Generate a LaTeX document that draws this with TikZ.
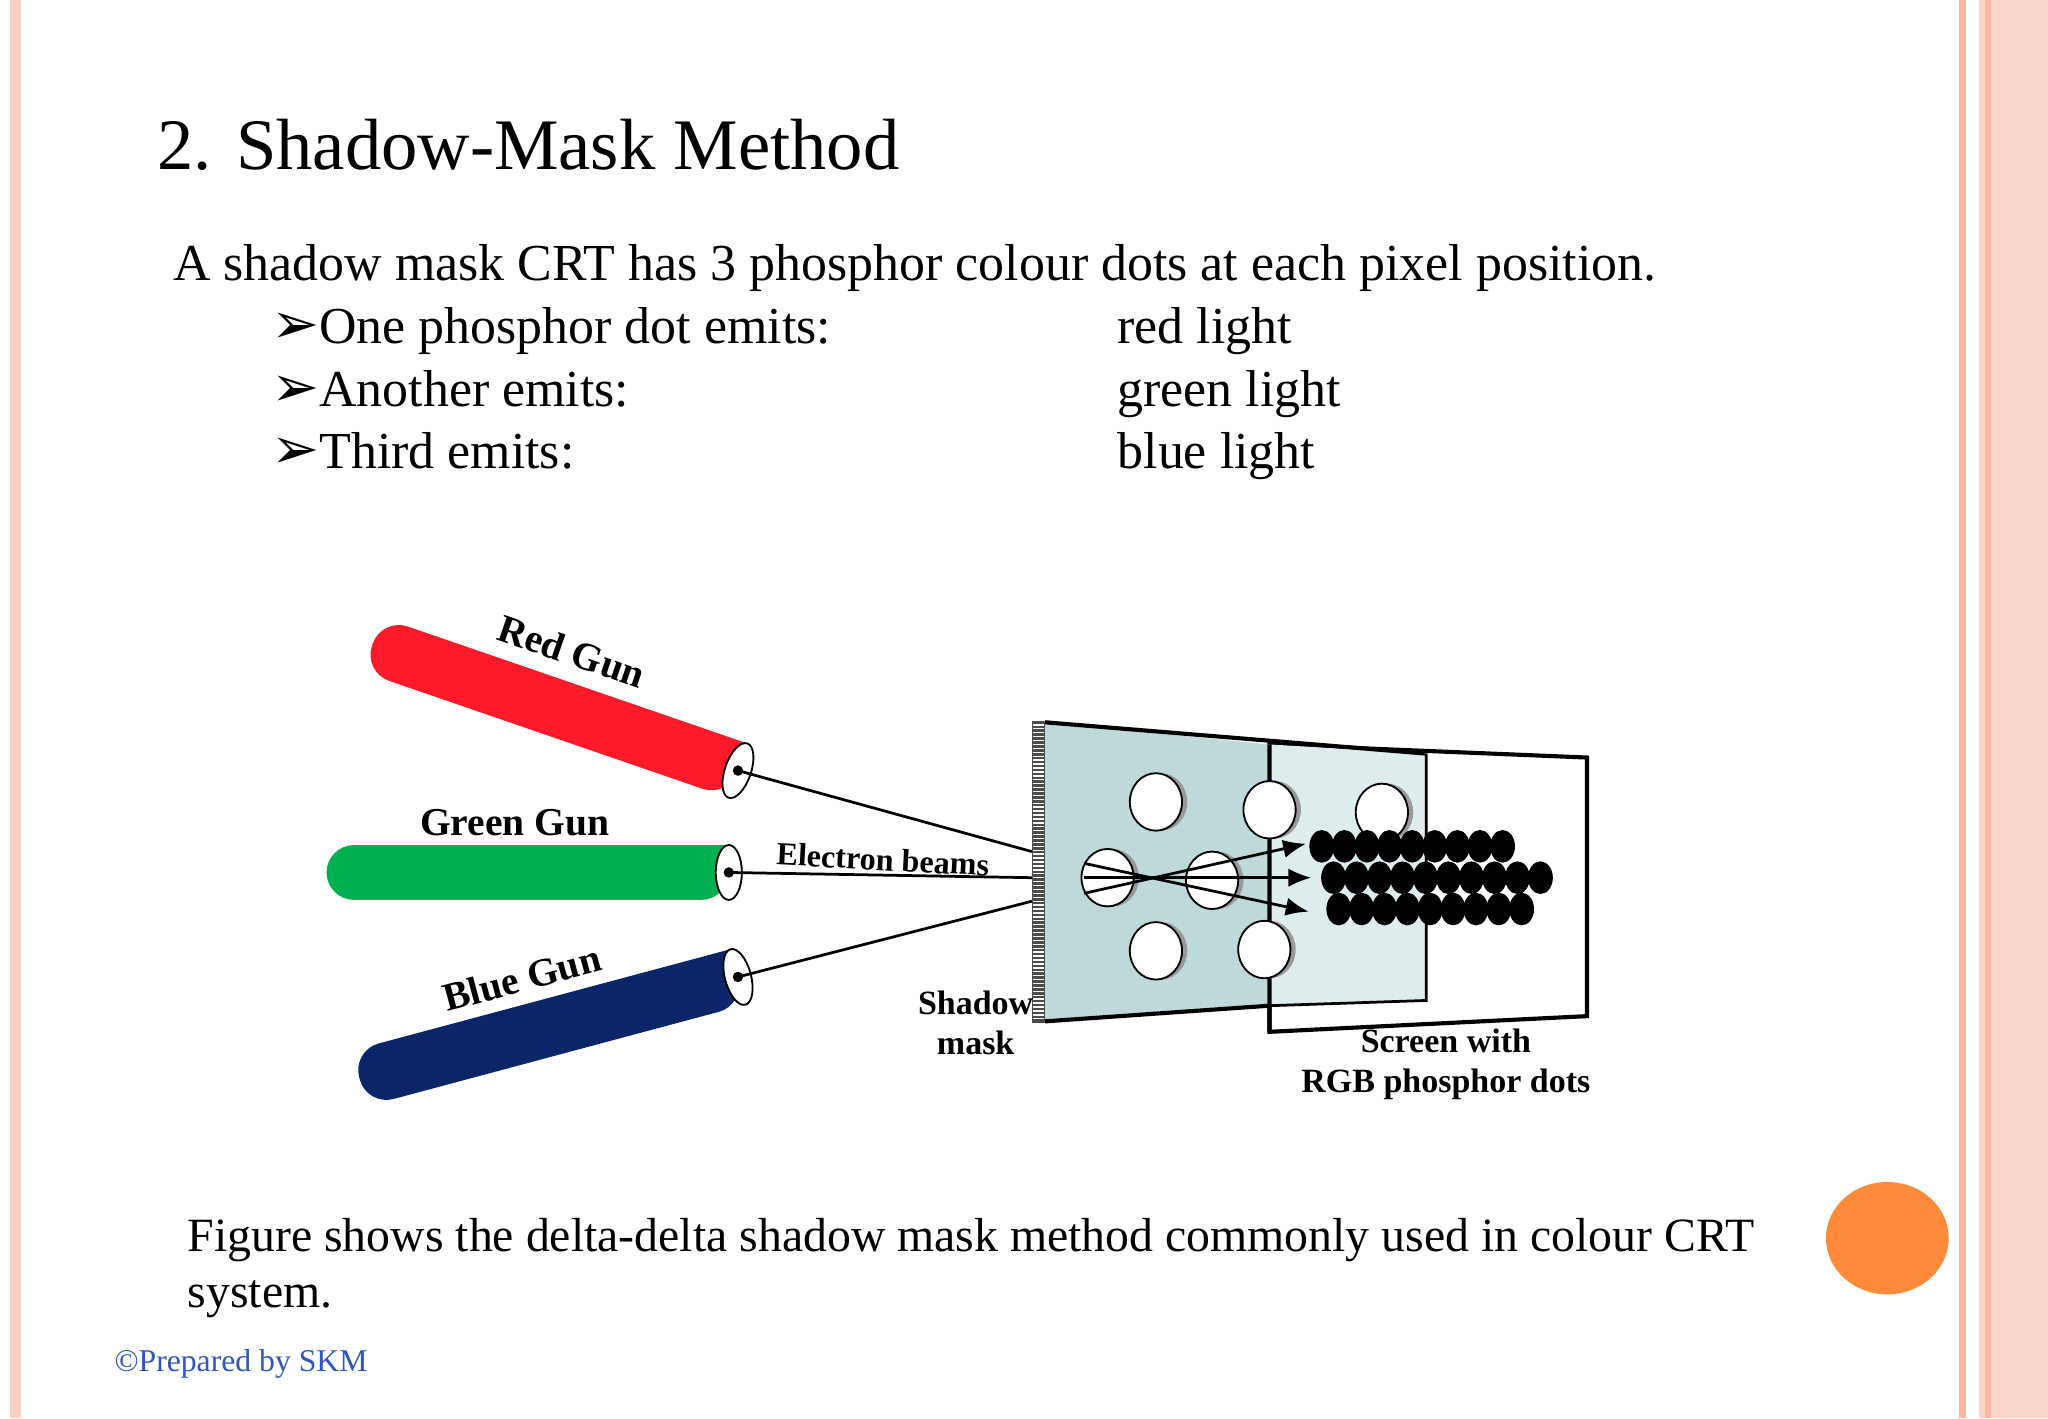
\documentclass[tikz,border=0pt]{standalone}
\usepackage{fontspec}
\setmainfont{Liberation Serif}
\newfontfamily\arrowfont{DejaVu Sans}
\usetikzlibrary{arrows.meta}
\definecolor{frame}{HTML}{F7B9A4}
\definecolor{redgun}{HTML}{FF1A2A}
\definecolor{greengun}{HTML}{00B050}
\definecolor{bluegun}{HTML}{0A2668}
\definecolor{maskcol}{HTML}{BDD9D9}
\definecolor{screencol}{HTML}{DDECEC}
\definecolor{orangedot}{HTML}{FF8A3A}
\definecolor{footcol}{HTML}{3355BB}
\newcommand{\bulletarrow}{{\arrowfont\fontsize{12.5}{12}\selectfont ➢}}
\tikzstyle{line}=[font=\fontsize{11.3}{13}\selectfont,anchor=base west,inner sep=0]
\tikzstyle{label}=[font=\bfseries\fontsize{7.4}{8.6}\selectfont,align=center,inner sep=0]
\tikzstyle{beam}=[draw=black,line width=0.6pt]
\tikzstyle{ray}=[-{Latex[length=5pt,width=4pt]},draw=black,line width=0.6pt]
\tikzstyle{hole}=[draw=black,fill=white,line width=0.4pt]
\tikzstyle{dot}=[fill=black]
\begin{document}
\begin{tikzpicture}[x=0.01cm,y=-0.01cm]
	\useasboundingbox (0,0) rectangle (1568,1086);
	% frame
	\fill[frame!70] (8,0) rectangle (16,1086);
	\fill[frame] (1500,0) rectangle (1505,1086);
	\fill[frame!60] (1515,0) rectangle (1568,1086);
	\fill[frame] (1520,0) rectangle (1524,1086);
	% texts
	\node[line,font=\fontsize{15.8}{18}\selectfont] (title) at (120,130) {2. Shadow-Mask Method};
	\node[line] (intro) at (132,215) {A shadow mask CRT has 3 phosphor colour dots at each pixel position.};
	\node[line] (b1) at (207,263) {\bulletarrow One phosphor dot emits:};
	\node[line] (b2) at (207,311) {\bulletarrow Another emits:};
	\node[line] (b3) at (207,359) {\bulletarrow Third emits:};
	\node[line] (c1) at (855,263) {red light};
	\node[line] (c2) at (855,311) {green light};
	\node[line] (c3) at (855,359) {blue light};
	\node[line,font=\fontsize{10.4}{13}\selectfont] (cap1) at (143,958) {Figure shows the delta-delta shadow mask method commonly used in colour CRT};
	\node[line,font=\fontsize{10.4}{13}\selectfont] (cap2) at (143,1001) {system.};
	\node[line,font=\fontsize{6.9}{9}\selectfont,text=footcol] (foot) at (87,1050) {\textcopyright Prepared by SKM};
	\fill[orangedot] (1445,948) ellipse [x radius=47,y radius=43];
	% guns
	\begin{scope}[shift={(565,590)},rotate=-19]
		\fill[redgun,rounded corners=6pt] (0,-22) -- (-296,-22) -- (-296,22) -- (0,22) [sharp corners] -- cycle;
		\draw[hole] (0,0) ellipse [x radius=10,y radius=22];
		\coordinate (redend) at (0,0);
		\node[label,font=\bfseries\fontsize{8.6}{10}\selectfont,rotate=-19] (redlab) at (-150,-45) {Red Gun};
	\end{scope}
	\begin{scope}[shift={(558,668)}]
		\fill[greengun,rounded corners=6pt] (0,-21) -- (-308,-21) -- (-308,21) -- (0,21) [sharp corners] -- cycle;
		\draw[hole] (0,0) ellipse [x radius=10,y radius=21];
		\coordinate (greenend) at (0,0);
		\node[label,font=\bfseries\fontsize{8.6}{10}\selectfont] (greenlab) at (-164,-38) {Green Gun};
	\end{scope}
	\begin{scope}[shift={(565,748)},rotate=15]
		\fill[bluegun,rounded corners=6pt] (0,-22) -- (-300,-22) -- (-300,22) -- (0,22) [sharp corners] -- cycle;
		\draw[hole] (0,0) ellipse [x radius=10,y radius=22];
		\coordinate (blueend) at (0,0);
		\node[label,font=\bfseries\fontsize{8.6}{10}\selectfont,rotate=15] (bluelab) at (-160,-42) {Blue Gun};
	\end{scope}
	\foreach \g in {redend,greenend,blueend}
		\fill (\g) circle (4);
	% screen and mask
	\draw[line width=0.9pt,fill=white] (972,570) -- (1215,580) -- (1215,778) -- (972,790) -- cycle;
	\fill[screencol] (972,570) -- (1092,577) -- (1092,766) -- (972,770) -- cycle;
	\draw[line width=0.6pt] (972,770) -- (1092,766) -- (1092,577);
	\fill[maskcol] (800,553) -- (972,570) -- (972,770) -- (800,782) -- cycle;
	\draw[line width=0.9pt] (800,553) -- (1092,577) (972,570) -- (972,790) (800,782) -- (972,770);
	\fill[black!70] (790,552) rectangle (800,783);
	\foreach \y in {555,558,...,780}
		\draw[white,line width=0.3pt] (791,\y) -- (799,\y);
	\coordinate (maskin) at (790,672);
	% holes
	\foreach \x/\y [count=\i] in {885/614,972/620,1058/622,848/672,928/674,885/728,968/727}{
		\fill[black!40] (\x+4,\y) ellipse [x radius=20,y radius=22];
		\draw[hole] (\x,\y) ellipse [x radius=20,y radius=22];
		\coordinate (hole\i) at (\x,\y);
	}
	% phosphor dots
	\foreach \i in {0,...,8}
		\fill[dot] (1012+17.3*\i,648) ellipse [x radius=9.5,y radius=12.5];
	\foreach \i in {0,...,9}
		\fill[dot] (1021+17.6*\i,672) ellipse [x radius=9.5,y radius=12.5];
	\foreach \i in {0,...,8}
		\fill[dot] (1025+17.5*\i,696) ellipse [x radius=9.5,y radius=12.5];
	% beams
	\draw[beam] (redend) -- (790,652);
	\draw[beam] (greenend) -- (maskin);
	\draw[beam] (blueend) -- (790,690);
	\coordinate (tr) at (1000,646);
	\coordinate (tg) at (1004,672);
	\coordinate (tb) at (1002,698);
	\draw[ray] (830,661) -- (tb);
	\draw[ray] (830,672) -- (tg);
	\draw[ray] (830,684) -- (tr);
	% labels
	\node[label,font=\bfseries\fontsize{7}{8}\selectfont,rotate=-3] (beamlab) at (676,658) {Electron beams};
	\node[label] (masklab) at (747,783) {Shadow\\mask};
	\node[label] (screenlab) at (1107,815) {Screen with\\RGB phosphor dots};
\end{tikzpicture}
\end{document}
